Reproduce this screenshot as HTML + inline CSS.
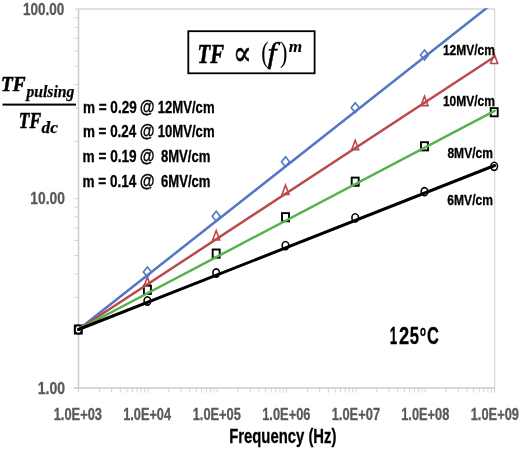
<!DOCTYPE html>
<html><head><meta charset="utf-8"><title>TF vs Frequency</title>
<style>html,body{margin:0;padding:0;background:#fff;overflow:hidden}svg{display:block}text{font-kerning:none}.s{font-family:"Liberation Sans",Arial,sans-serif;font-weight:bold;stroke-width:0.3px}.m{font-family:"Liberation Serif","DejaVu Serif",serif;font-weight:bold;font-style:italic;stroke-width:0.6px}</style></head><body>
<svg width="520" height="450" viewBox="0 0 520 450">
<defs><filter id="bl" x="0" y="0" width="1" height="1"><feGaussianBlur stdDeviation="0.5"/></filter></defs><g filter="url(#bl)">
<rect width="520" height="450" fill="#fff"/>
<path d="M78.5 9H495M494.6 9V388" stroke="#D9D9D9" stroke-width="1.3" fill="none"/>
<path d="M74.5 388.00H78.5M74.5 330.95H78.5M74.5 297.59H78.5M74.5 273.91H78.5M74.5 255.55H78.5M74.5 240.54H78.5M74.5 227.85H78.5M74.5 216.86H78.5M74.5 207.17H78.5M74.5 198.50H78.5M74.5 141.45H78.5M74.5 108.09H78.5M74.5 84.41H78.5M74.5 66.05H78.5M74.5 51.04H78.5M74.5 38.35H78.5M74.5 27.36H78.5M74.5 17.67H78.5M74.5 9.00H78.5M78.50 388V392.5M99.38 388V392.5M111.59 388V392.5M120.25 388V392.5M126.97 388V392.5M132.46 388V392.5M137.11 388V392.5M141.13 388V392.5M144.68 388V392.5M147.85 388V392.5M168.73 388V392.5M180.94 388V392.5M189.60 388V392.5M196.32 388V392.5M201.81 388V392.5M206.46 388V392.5M210.48 388V392.5M214.03 388V392.5M217.20 388V392.5M238.08 388V392.5M250.29 388V392.5M258.95 388V392.5M265.67 388V392.5M271.16 388V392.5M275.81 388V392.5M279.83 388V392.5M283.38 388V392.5M286.55 388V392.5M307.43 388V392.5M319.64 388V392.5M328.30 388V392.5M335.02 388V392.5M340.51 388V392.5M345.16 388V392.5M349.18 388V392.5M352.73 388V392.5M355.90 388V392.5M376.78 388V392.5M388.99 388V392.5M397.65 388V392.5M404.37 388V392.5M409.86 388V392.5M414.51 388V392.5M418.53 388V392.5M422.08 388V392.5M425.25 388V392.5M446.13 388V392.5M458.34 388V392.5M467.00 388V392.5M473.72 388V392.5M479.21 388V392.5M483.86 388V392.5M487.88 388V392.5M491.43 388V392.5M494.60 388V392.5" stroke="#D2D2D2" stroke-width="1" fill="none"/>
<path d="M78.5 9V388M74 388H495" stroke="#CCCCCC" stroke-width="1.5" fill="none"/>
<rect x="74.8" y="325.4" width="7" height="8.2" fill="#fff" stroke="#000" stroke-width="1.9"/>
<ellipse cx="78.3" cy="329.5" rx="3.3" ry="4.1" fill="#fff" stroke="#000" stroke-width="1.6"/>
<path d="M147.4 267L151.4 272L147.4 277L143.4 272Z" fill="#fff" stroke="#5277C4" stroke-width="1.6"/>
<path d="M147.4 277.1L150.9 286.5L143.9 286.5Z" fill="#fff" stroke="#BA4B4E" stroke-width="1.6"/>
<rect x="143.9" y="285.7" width="7" height="8.2" fill="#fff" stroke="#000" stroke-width="1.9"/>
<ellipse cx="147.4" cy="301" rx="3.3" ry="4.1" fill="#fff" stroke="#000" stroke-width="1.6"/>
<path d="M216.2 211.3L220.2 216.3L216.2 221.3L212.2 216.3Z" fill="#fff" stroke="#5277C4" stroke-width="1.6"/>
<path d="M216.2 230.6L219.7 240L212.7 240Z" fill="#fff" stroke="#BA4B4E" stroke-width="1.6"/>
<rect x="212.7" y="249.5" width="7" height="8.2" fill="#fff" stroke="#000" stroke-width="1.9"/>
<ellipse cx="216.2" cy="273" rx="3.3" ry="4.1" fill="#fff" stroke="#000" stroke-width="1.6"/>
<path d="M285.5 156.7L289.5 161.7L285.5 166.7L281.5 161.7Z" fill="#fff" stroke="#5277C4" stroke-width="1.6"/>
<path d="M285.5 185.1L289.0 194.5L282.0 194.5Z" fill="#fff" stroke="#BA4B4E" stroke-width="1.6"/>
<rect x="282.0" y="213.1" width="7" height="8.2" fill="#fff" stroke="#000" stroke-width="1.9"/>
<ellipse cx="285.5" cy="245.6" rx="3.3" ry="4.1" fill="#fff" stroke="#000" stroke-width="1.6"/>
<path d="M355.2 102.8L359.2 107.8L355.2 112.8L351.2 107.8Z" fill="#fff" stroke="#5277C4" stroke-width="1.6"/>
<path d="M355.2 140.29999999999998L358.7 149.7L351.7 149.7Z" fill="#fff" stroke="#BA4B4E" stroke-width="1.6"/>
<rect x="351.7" y="177.6" width="7" height="8.2" fill="#fff" stroke="#000" stroke-width="1.9"/>
<ellipse cx="355.2" cy="217.8" rx="3.3" ry="4.1" fill="#fff" stroke="#000" stroke-width="1.6"/>
<path d="M424.5 50.0L428.5 55.0L424.5 60.0L420.5 55.0Z" fill="#fff" stroke="#5277C4" stroke-width="1.6"/>
<path d="M424.5 96.19999999999999L428.0 105.6L421.0 105.6Z" fill="#fff" stroke="#BA4B4E" stroke-width="1.6"/>
<rect x="421.0" y="142.20000000000002" width="7" height="8.2" fill="#fff" stroke="#000" stroke-width="1.9"/>
<ellipse cx="424.5" cy="191.7" rx="3.3" ry="4.1" fill="#fff" stroke="#000" stroke-width="1.6"/>
<path d="M494.2 54.1L497.7 63.5L490.7 63.5Z" fill="#fff" stroke="#BA4B4E" stroke-width="1.6"/>
<rect x="490.7" y="108.10000000000001" width="7" height="8.2" fill="#fff" stroke="#000" stroke-width="1.9"/>
<ellipse cx="494.2" cy="166.3" rx="3.3" ry="4.1" fill="#fff" stroke="#000" stroke-width="1.6"/>
<clipPath id="pc"><rect x="70" y="8.3" width="430" height="390"/></clipPath><g clip-path="url(#pc)">
<path d="M78.5 329.5L491.73 4.0" stroke="#5277C4" stroke-width="2.5" fill="none" stroke-linecap="round"/>
<path d="M78.5 329.5L494.60 56.8" stroke="#BA4B4E" stroke-width="2.5" fill="none" stroke-linecap="round"/>
<path d="M78.5 329.5L494.60 110.9" stroke="#56B24E" stroke-width="2.5" fill="none" stroke-linecap="round"/>
<path d="M78.5 329.5L494.60 165.5" stroke="#000" stroke-width="3.0" fill="none" stroke-linecap="round"/>
</g>
<text class="s" x="22.95" y="15.4" font-size="17.3" fill="#595959" stroke="#595959" textLength="41.41" lengthAdjust="spacingAndGlyphs">100.00</text>
<text class="s" x="30.33" y="204" font-size="17.3" fill="#595959" stroke="#595959" textLength="34.64" lengthAdjust="spacingAndGlyphs">10.00</text>
<text class="s" x="37.72" y="393.5" font-size="17.3" fill="#595959" stroke="#595959" textLength="27.26" lengthAdjust="spacingAndGlyphs">1.00</text>
<text class="s" x="53.69" y="420" font-size="16.7" fill="#595959" stroke="#595959" textLength="48.27" lengthAdjust="spacingAndGlyphs">1.0E+03</text>
<text class="s" x="123.2" y="420" font-size="16.7" fill="#595959" stroke="#595959" textLength="47.87" lengthAdjust="spacingAndGlyphs">1.0E+04</text>
<text class="s" x="192.69" y="420" font-size="16.7" fill="#595959" stroke="#595959" textLength="48.17" lengthAdjust="spacingAndGlyphs">1.0E+05</text>
<text class="s" x="262.19" y="420" font-size="16.7" fill="#595959" stroke="#595959" textLength="48.27" lengthAdjust="spacingAndGlyphs">1.0E+06</text>
<text class="s" x="331.69" y="420" font-size="16.7" fill="#595959" stroke="#595959" textLength="48.38" lengthAdjust="spacingAndGlyphs">1.0E+07</text>
<text class="s" x="401.19" y="420" font-size="16.7" fill="#595959" stroke="#595959" textLength="48.2" lengthAdjust="spacingAndGlyphs">1.0E+08</text>
<text class="s" x="470.69" y="420" font-size="16.7" fill="#595959" stroke="#595959" textLength="48.29" lengthAdjust="spacingAndGlyphs">1.0E+09</text>
<text class="s" x="229.21" y="443.3" font-size="20" fill="#000" stroke="#000" textLength="107.23" lengthAdjust="spacingAndGlyphs">Frequency (Hz)</text>
<text class="s" x="82.91" y="113.4" font-size="15.7" fill="#000" stroke="#000" textLength="53.79" lengthAdjust="spacingAndGlyphs">m = 0.29</text>
<text class="s" x="139.64" y="113.4" font-size="18.7" fill="#000" stroke="#000" textLength="14.74" lengthAdjust="spacingAndGlyphs">@</text>
<text class="s" x="157.67" y="113.4" font-size="15.7" fill="#000" stroke="#000" textLength="56.94" lengthAdjust="spacingAndGlyphs">12MV/cm</text>
<text class="s" x="82.92" y="137.2" font-size="15.7" fill="#000" stroke="#000" textLength="53.36" lengthAdjust="spacingAndGlyphs">m = 0.24</text>
<text class="s" x="139.64" y="137.2" font-size="18.7" fill="#000" stroke="#000" textLength="14.74" lengthAdjust="spacingAndGlyphs">@</text>
<text class="s" x="157.67" y="137.2" font-size="15.7" fill="#000" stroke="#000" textLength="56.94" lengthAdjust="spacingAndGlyphs">10MV/cm</text>
<text class="s" x="82.5" y="162.4" font-size="15.7" fill="#000" stroke="#000" textLength="54.2" lengthAdjust="spacingAndGlyphs">m = 0.19</text>
<text class="s" x="139.64" y="162.4" font-size="18.7" fill="#000" stroke="#000" textLength="14.74" lengthAdjust="spacingAndGlyphs">@</text>
<text class="s" x="160.88" y="162.4" font-size="15.7" fill="#000" stroke="#000" textLength="49.53" lengthAdjust="spacingAndGlyphs">8MV/cm</text>
<text class="s" x="82.51" y="186.5" font-size="15.7" fill="#000" stroke="#000" textLength="53.76" lengthAdjust="spacingAndGlyphs">m = 0.14</text>
<text class="s" x="139.64" y="186.5" font-size="18.7" fill="#000" stroke="#000" textLength="14.74" lengthAdjust="spacingAndGlyphs">@</text>
<text class="s" x="161.02" y="186.5" font-size="15.7" fill="#000" stroke="#000" textLength="49.39" lengthAdjust="spacingAndGlyphs">6MV/cm</text>
<text class="s" x="442.94" y="55.2" font-size="14.6" fill="#000" stroke="#000" textLength="52.0" lengthAdjust="spacingAndGlyphs">12MV/cm</text>
<text class="s" x="442.94" y="106.2" font-size="14.6" fill="#000" stroke="#000" textLength="52.0" lengthAdjust="spacingAndGlyphs">10MV/cm</text>
<text class="s" x="447.42" y="158.2" font-size="14.6" fill="#000" stroke="#000" textLength="45.53" lengthAdjust="spacingAndGlyphs">8MV/cm</text>
<text class="s" x="447.36" y="204.5" font-size="14.6" fill="#000" stroke="#000" textLength="45.59" lengthAdjust="spacingAndGlyphs">6MV/cm</text>
<text class="s" x="389.66" y="343.6" font-size="24.8" fill="#000" stroke="#000" textLength="7.41" lengthAdjust="spacingAndGlyphs">1</text>
<text class="s" x="398.97" y="343.6" font-size="24.8" fill="#000" stroke="#000" textLength="10.17" lengthAdjust="spacingAndGlyphs">2</text>
<text class="s" x="409.69" y="343.6" font-size="24.8" fill="#000" stroke="#000" textLength="9.28" lengthAdjust="spacingAndGlyphs">5</text>
<text class="s" x="420.02" y="336.3" font-size="14.2" fill="#000" stroke="#000" textLength="5.96" lengthAdjust="spacingAndGlyphs">o</text>
<text class="s" x="427.02" y="343.6" font-size="24.8" fill="#000" stroke="#000" textLength="11.93" lengthAdjust="spacingAndGlyphs">C</text>
<text class="m" x="1.1" y="90.8" font-size="22" fill="#000" stroke="#000" textLength="24.62" lengthAdjust="spacingAndGlyphs">TF</text>
<text class="m" x="26.42" y="96.9" font-size="17.5" fill="#000" stroke="#000" textLength="47.99" lengthAdjust="spacingAndGlyphs" style="stroke-width:0.25px">pulsing</text>
<rect x="2.5" y="103.6" width="73.5" height="2" fill="#000"/>
<text class="m" x="18.73" y="127.7" font-size="23" fill="#000" stroke="#000" textLength="22.36" lengthAdjust="spacingAndGlyphs">TF</text>
<text class="m" x="41.6" y="133" font-size="16.6" fill="#000" stroke="#000" textLength="16.36" lengthAdjust="spacingAndGlyphs" style="stroke-width:0.25px">dc</text>
<rect x="188.3" y="31.2" width="126.3" height="42.1" fill="#fff" stroke="#000" stroke-width="1.8"/>
<text class="m" x="197.49" y="62.6" font-size="28.1" fill="#000" stroke="#000" textLength="26.45" lengthAdjust="spacingAndGlyphs">TF</text>
<text x="232.9" y="64.9" font-family="DejaVu Serif,serif" font-size="34.7" fill="#000" stroke="#000" stroke-width="0.6" textLength="18.67" lengthAdjust="spacingAndGlyphs">&#8733;</text>
<text x="261.3" y="61.5" font-family="Liberation Serif,serif" font-size="29" fill="#000" textLength="7.44" lengthAdjust="spacingAndGlyphs">(</text>
<text class="m" x="267.44" y="63.15" font-size="28.4" fill="#000" stroke="#000" textLength="9.02" lengthAdjust="spacingAndGlyphs" style="font-weight:normal;stroke-width:0.45px">f</text>
<text x="280.1" y="61.5" font-family="Liberation Serif,serif" font-size="29" fill="#000" textLength="7.44" lengthAdjust="spacingAndGlyphs">)</text>
<text class="m" x="288.87" y="52.2" font-size="17" fill="#000" stroke="#000" textLength="13.46" lengthAdjust="spacingAndGlyphs" style="stroke-width:0.1px">m</text>
</g></svg></body></html>
